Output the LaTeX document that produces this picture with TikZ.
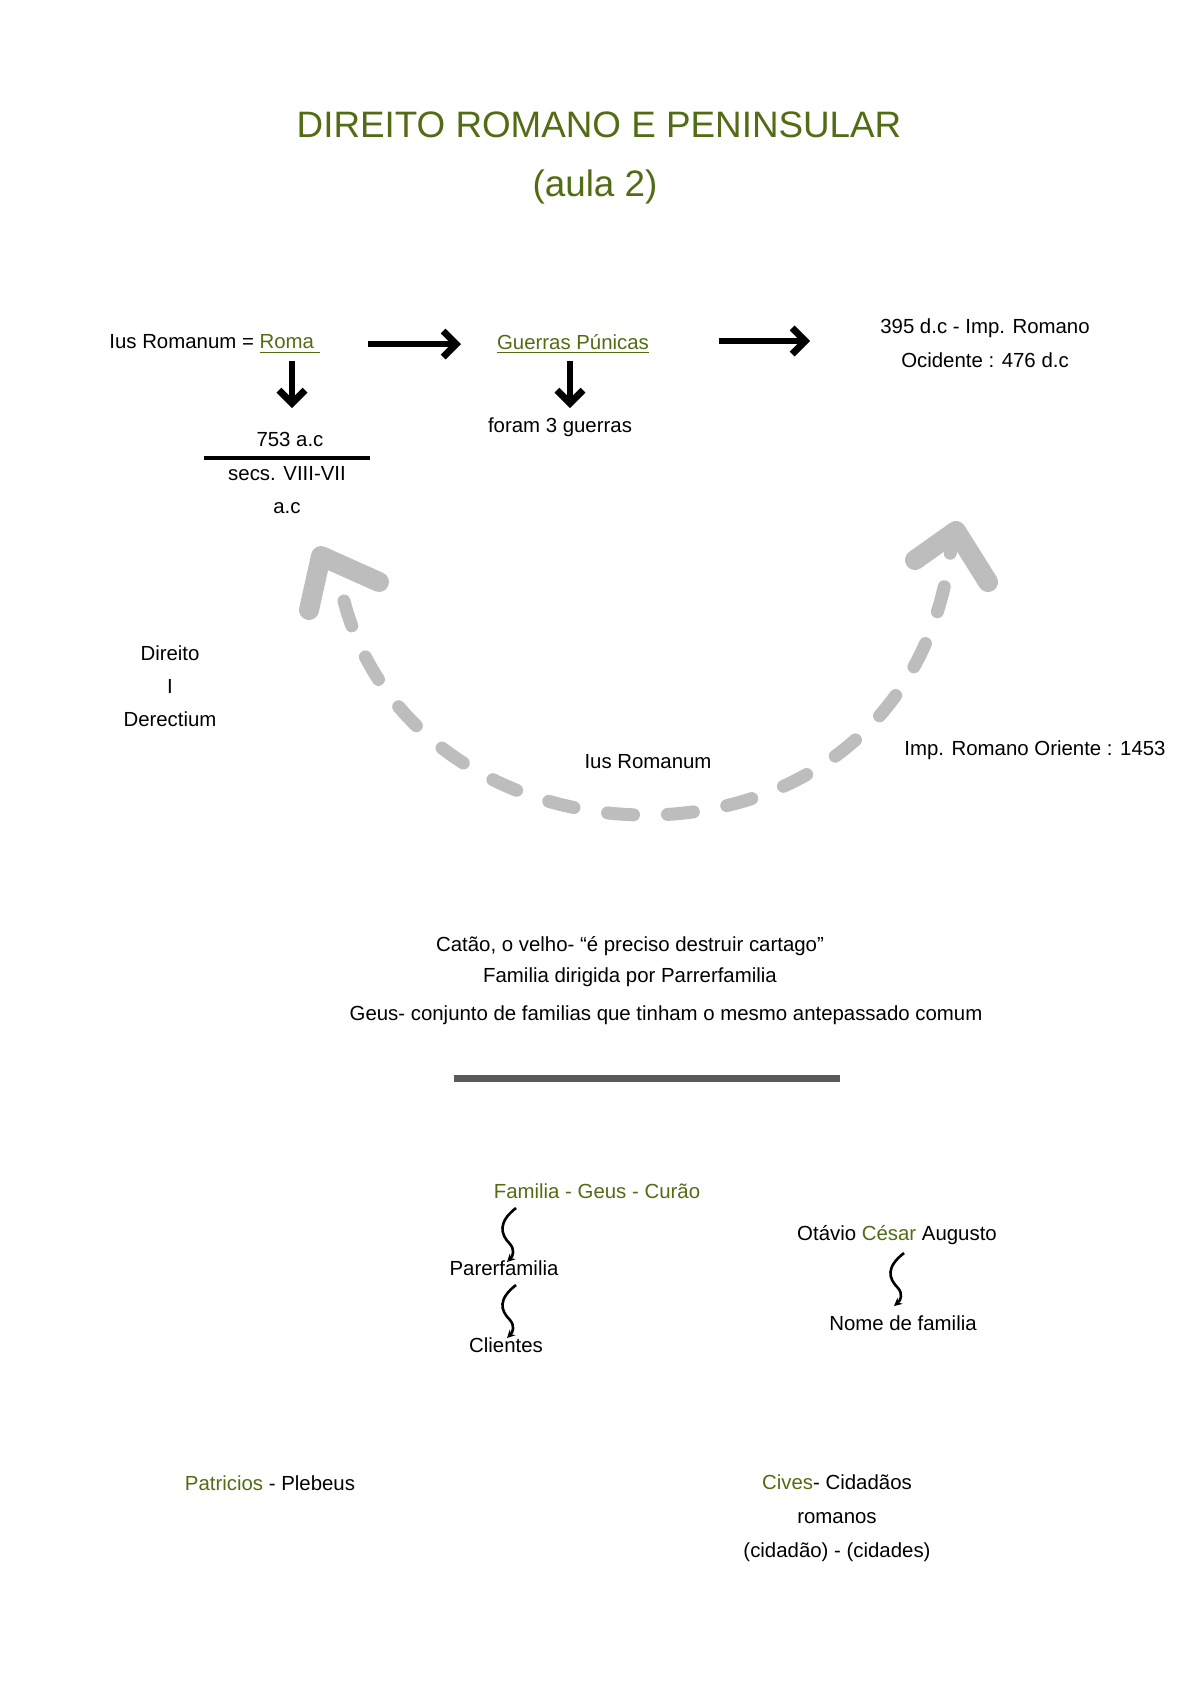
\documentclass[tikz,border=0pt]{standalone}
\usepackage{fontspec}
\setmainfont{Liberation Sans}
\usetikzlibrary{arrows.meta}
\definecolor{olv}{RGB}{82,108,20}
\definecolor{arcgray}{RGB}{189,189,189}
\definecolor{bargray}{RGB}{90,90,90}
\begin{document}
\begin{tikzpicture}[x=0.5pt,y=-0.5pt,
  txt/.style={inner sep=0pt, font=\fontsize{10.2}{16.5}\selectfont, align=center},
  ttl/.style={inner sep=0pt, font=\fontsize{18.4}{22}\selectfont, text=olv},
  bigarrow/.style={line width=3.4pt, -{Straight Barb[length=6.5pt,width=13pt]}},
  downarrow/.style={line width=3.4pt, -{Straight Barb[length=6.5pt,width=13pt]}},
  arcdash/.style={arcgray, line width=6.5pt, line cap=round, dash pattern=on 13pt off 17pt},
  archead/.style={arcgray, line width=10pt, line cap=round, line join=round},
  squig/.style={line width=1.3pt, -{Stealth[length=4pt,width=4pt]}},
  hbar/.style={line width=2.2pt},
  gbar/.style={bargray, line width=3.5pt}]
\useasboundingbox (0,0) rectangle (1200,1698);

% title
\node[ttl] (t1) at (599,125) {DIREITO ROMANO E PENINSULAR};
\node[ttl] (t2) at (595,187) {(aula 2)};

% top row
\node[txt, anchor=west] (ius) at (109,344) {Ius Romanum = \textcolor{olv}{\underline{Roma\ }}};
\node[txt] (guer) at (573,344) {\textcolor{olv}{\underline{Guerras Púnicas}}};
\node[txt, font=\fontsize{10.2}{17}\selectfont] (imp1) at (985,343) {395 d.c - Imp. Romano\\Ocidente : 476 d.c};

\coordinate (a1s) at (368,344); \coordinate (a1e) at (461,344);
\coordinate (a2s) at (719,341); \coordinate (a2e) at (810,341);
\draw[bigarrow] (a1s) -- (a1e);
\draw[bigarrow] (a2s) -- (a2e);

\coordinate (d1s) at (292,361); \coordinate (d1e) at (292,408);
\coordinate (d2s) at (570,361); \coordinate (d2e) at (570,408);
\draw[downarrow] (d1s) -- (d1e);
\draw[downarrow] (d2s) -- (d2e);

\node[txt] (y753) at (290,439) {753 a.c};
\coordinate (hl) at (204,458); \coordinate (hr) at (370,458);
\draw[hbar] (hl) -- (hr);
\node[txt] (secs) at (287,474) {secs. VIII-VII};
\node[txt] (ac) at (287,508) {a.c};
\node[txt] (foram) at (560,427) {foram 3 guerras};

% arc
\coordinate (cL) at (344,601);
\coordinate (c1) at (420,890);
\coordinate (c2) at (910,900);
\coordinate (cR) at (951,547);
\draw[arcdash] (cL) .. controls (c1) and (c2) .. (cR);
\coordinate (lA) at (321,556); \coordinate (lA1) at (309,610); \coordinate (lA2) at (379,582);
\draw[archead] (lA1) -- (lA) -- (lA2);
\coordinate (rA) at (956,531); \coordinate (rA1) at (915,560); \coordinate (rA2) at (988,582);
\draw[archead] (rA1) -- (rA) -- (rA2);

\node[txt] (dir) at (170,686) {Direito\\I\\Derectium};
\node[txt] (iusr) at (648,762) {Ius Romanum};
\node[txt] (impo) at (1035,750) {Imp. Romano Oriente : 1453};

% middle text
\node[txt] (catao) at (630,946) {Catão, o velho- “é preciso destruir cartago”};
\node[txt] (famdir) at (630,977) {Familia dirigida por Parrerfamilia};
\node[txt] (geus) at (666,1015) {Geus- conjunto de familias que tinham o mesmo antepassado comum};
\coordinate (gb1) at (454,1078); \coordinate (gb2) at (840,1078);
\draw[gbar] (gb1) -- (gb2);

% family block
\node[txt, text=olv] (fgc) at (597,1191) {Familia - Geus - Curão};
\node[txt] (parer) at (504,1268) {Parerfamilia};
\node[txt] (cli) at (506,1345) {Clientes};
\coordinate (s1a) at (516,1208); \coordinate (s1b) at (507,1262);
\draw[squig] (s1a) .. controls (498,1222) and (500,1234) .. (510,1244) .. controls (515,1250) and (513,1256) .. (s1b);
\coordinate (s2a) at (516,1285); \coordinate (s2b) at (507,1338);
\draw[squig] (s2a) .. controls (498,1299) and (500,1310) .. (510,1320) .. controls (515,1326) and (513,1332) .. (s2b);

\node[txt] (otav) at (897,1235) {Otávio \textcolor{olv}{César} Augusto};
\node[txt] (nome) at (903,1323) {Nome de familia};
\coordinate (s3a) at (904,1253); \coordinate (s3b) at (894,1306);
\draw[squig] (s3a) .. controls (886,1267) and (888,1278) .. (898,1288) .. controls (903,1294) and (901,1300) .. (s3b);

% bottom
\node[txt] (patr) at (270,1483) {\textcolor{olv}{Patricios} - Plebeus};
\node[txt, font=\fontsize{10.2}{17}\selectfont] (cives) at (837,1518) {\textcolor{olv}{Cives}- Cidadãos\\romanos\\(cidadão) - (cidades)};
\end{tikzpicture}
\end{document}
